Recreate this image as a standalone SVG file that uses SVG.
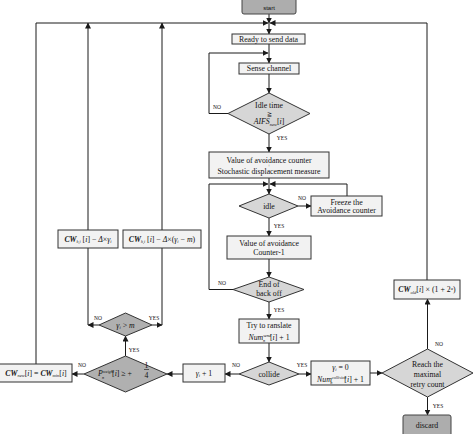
<svg xmlns="http://www.w3.org/2000/svg" width="474" height="434" viewBox="0 0 474 434">
<defs>
<marker id="ah" markerUnits="userSpaceOnUse" markerWidth="6" markerHeight="6" refX="5.5" refY="3" orient="auto">
<path d="M0,0 L6,3 L0,6 z" fill="#1a1a1a"/>
</marker>
</defs>
<style>
.box{fill:#f2f2f2;stroke:#333;stroke-width:1}
.dia{fill:#d6d6d6;stroke:#333;stroke-width:1}
.dk{fill:#b0b0b0;stroke:#333;stroke-width:1}
.term{fill:#adadad;stroke:#444;stroke-width:1}
.t{font-family:"Liberation Serif",serif;font-size:7.8px;fill:#111;text-anchor:middle}
.lb{font-family:"Liberation Serif",serif;font-size:5.5px;fill:#111;text-anchor:middle}
.i{font-style:italic}
.b{font-weight:bold;font-style:italic}
.c{fill:none;stroke:#1a1a1a;stroke-width:1}
.a{marker-end:url(#ah)}
</style>
<rect width="474" height="434" fill="#fff"/>

<g id="connectors">
<path class="c a" d="M269,14 V23"/>
<path class="c a" d="M36,23 H268"/>
<path class="c a" d="M427,23 H270"/>
<path class="c a" d="M269,23 V34"/>
<path class="c a" d="M269,44 V63"/>
<path class="c a" d="M228,113.5 H209 V53 H268"/>
<path class="c a" d="M269,74 V93"/>
<path class="c a" d="M269,134 V152"/>
<path class="c a" d="M269,178 V194"/>
<path class="c a" d="M233,289.5 H209 V184 H268"/>
<path class="c a" d="M347,196 V184 H270"/>
<path class="c a" d="M298,206 H311"/>
<path class="c a" d="M269,218 V236"/>
<path class="c a" d="M269,259 V277"/>
<path class="c a" d="M269,302 V319"/>
<path class="c a" d="M269,343 V362"/>
<path class="c a" d="M239,374 H225"/>
<path class="c a" d="M183,374 H167"/>
<path class="c a" d="M84,374 H72"/>
<path class="c" d="M36,364 V23"/>
<path class="c a" d="M125.5,356 V336"/>
<path class="c a" d="M99,325 H88"/>
<path class="c" d="M88,325 V248"/>
<path class="c a" d="M152,325 H162"/>
<path class="c" d="M162,325 V248"/>
<path class="c a" d="M88,230 V23"/>
<path class="c a" d="M162,230 V23"/>
<path class="c a" d="M299,374 H311"/>
<path class="c a" d="M370,373 H382"/>
<path class="c a" d="M427.5,349 V299"/>
<path class="c" d="M427,280 V23"/>
<path class="c a" d="M427.5,397 V415"/>
</g>

<g id="labels">
<text class="lb" x="217" y="109">NO</text>
<text class="lb" x="282" y="140">YES</text>
<text class="lb" x="302" y="200">NO</text>
<text class="lb" x="279" y="228">YES</text>
<text class="lb" x="222" y="285">NO</text>
<text class="lb" x="279" y="312">YES</text>
<text class="lb" x="236" y="367">NO</text>
<text class="lb" x="302" y="367">YES</text>
<text class="lb" x="82" y="367">NO</text>
<text class="lb" x="134" y="352">YES</text>
<text class="lb" x="98" y="320">NO</text>
<text class="lb" x="154" y="320">YES</text>
<text class="lb" x="439" y="346">NO</text>
<text class="lb" x="438" y="408">YES</text>
</g>

<g id="start">
<rect class="term" x="242" y="-3" width="54" height="17" rx="2"/>
<text class="t" x="269" y="10" style="font-family:'Liberation Sans',sans-serif;font-size:6px">start</text>
</g>
<g id="ready">
<rect class="box" x="232" y="34" width="73" height="10"/>
<text class="t" x="268.5" y="41.8">Ready to send data</text>
</g>
<g id="sense">
<rect class="box" x="239" y="63" width="60" height="11"/>
<text class="t" x="269" y="71.3">Sense channel</text>
</g>
<g id="idletime">
<polygon class="dia" points="269,93 310,113.5 269,134 228,113.5"/>
<text class="t" x="269" y="107.5">Idle time</text>
<text class="t" x="269" y="115.5" style="font-size:6px">≧</text>
<text class="t" x="269" y="124"><tspan class="i">AIFS</tspan><tspan class="i" font-size="4.5" dy="1.5">new</tspan><tspan dy="-1.5">[</tspan><tspan class="i">i</tspan>]</text>
</g>
<g id="valuecounter">
<rect class="box" x="209" y="152" width="120" height="26"/>
<text class="t" x="269" y="162.5">Value of avoidance counter</text>
<text class="t" x="269" y="167" style="font-size:4.5px">+</text>
<text class="t" x="269" y="174">Stochastic displacement measure</text>
</g>
<g id="idle">
<polygon class="dia" points="269,194 298,206 269,218 239,206"/>
<text class="t" x="269" y="208.8">idle</text>
</g>
<g id="freeze">
<rect class="box" x="311" y="196" width="71" height="20"/>
<text class="t" x="346.5" y="204.5">Freeze the</text>
<text class="t" x="346.5" y="212.5">Avoidance counter</text>
</g>
<g id="counterminus">
<rect class="box" x="227" y="236" width="84" height="23"/>
<text class="t" x="269" y="245.5">Value of avoidance</text>
<text class="t" x="269" y="255">Counter-1</text>
</g>
<g id="endbackoff">
<polygon class="dia" points="269,277 304,289.5 269,302 233,289.5"/>
<text class="t" x="269" y="287">End of</text>
<text class="t" x="269" y="295.5">back off</text>
</g>
<g id="try">
<rect class="box" x="239" y="319" width="60" height="24"/>
<text class="t" x="269" y="328">Try to ranslate</text>
<text class="t" x="269" y="339.5"><tspan class="i">Num</tspan><tspan class="i" font-size="4.2" dy="-3">send</tspan><tspan class="i" font-size="4.2" dx="-8" dy="5.5">n</tspan><tspan dx="5" dy="-2.5">[</tspan><tspan class="i">i</tspan>] + 1</text>
</g>
<g id="collide">
<polygon class="dia" points="269,362 299,374 269,385 239,374"/>
<text class="t" x="269" y="376.8">collide</text>
</g>
<g id="gammaplus">
<rect class="box" x="183" y="364" width="42" height="18"/>
<text class="t" x="204" y="375.8"><tspan class="i">γ</tspan><tspan class="i" font-size="4.5" dy="1.5">i</tspan><tspan dy="-1.5"> + 1</tspan></text>
</g>
<g id="pweight">
<polygon class="dk" points="125.5,356 167,374 125.5,392 84,374"/>
<text class="t" x="115" y="376"><tspan class="i">P</tspan><tspan class="i" font-size="4.2" dy="-3">weight</tspan><tspan class="i" font-size="4.2" dx="-12" dy="5.5">n</tspan><tspan dx="8" dy="-2.5">[</tspan><tspan class="i">i</tspan>] ≥ +</text>
<text class="t" x="146.5" y="367.5">1</text>
<line x1="144" y1="369.5" x2="149" y2="369.5" stroke="#111" stroke-width="0.6"/>
<text class="t" x="146.5" y="377.5">4</text>
</g>
<g id="cwnew">
<rect class="box" x="-1" y="364" width="73" height="18"/>
<text class="t" x="36" y="375.8"><tspan class="b">CW</tspan><tspan class="i" font-size="4.5" dy="1.5">new</tspan><tspan dy="-1.5">[</tspan><tspan class="i">i</tspan>] = <tspan class="b">CW</tspan><tspan class="i" font-size="4.5" dy="1.5">min</tspan><tspan dy="-1.5">[</tspan><tspan class="i">i</tspan>]</text>
</g>
<g id="gammagtm">
<polygon class="dk" points="125.5,313 152,325 125.5,336 99,325"/>
<text class="t" x="125.5" y="327.5"><tspan class="i">γ</tspan><tspan class="i" font-size="4.5" dy="1.5">i</tspan><tspan dy="-1.5"> &gt; </tspan><tspan class="i">m</tspan></text>
</g>
<g id="cw1">
<rect class="box" x="58" y="230" width="60" height="18"/>
<text class="t" x="88" y="241.8"><tspan class="b">CW</tspan><tspan class="i" font-size="4" dy="1.5">h,i</tspan><tspan dy="-1.5"> [</tspan><tspan class="i">i</tspan>] − <tspan class="i">Δ</tspan>×<tspan class="i">γ</tspan><tspan class="i" font-size="4.5" dy="1.5">i</tspan></text>
</g>
<g id="cw2">
<rect class="box" x="123" y="230" width="78" height="18"/>
<text class="t" x="162" y="241.8"><tspan class="b">CW</tspan><tspan class="i" font-size="4" dy="1.5">h,i</tspan><tspan dy="-1.5"> [</tspan><tspan class="i">i</tspan>] − <tspan class="i">Δ</tspan>×(<tspan class="i">γ</tspan><tspan class="i" font-size="4.5" dy="1.5">i</tspan><tspan dy="-1.5"> − </tspan><tspan class="i">m</tspan>)</text>
</g>
<g id="gammazero">
<rect class="box" x="311" y="361" width="59" height="24"/>
<text class="t" x="340.5" y="369.5"><tspan class="i">γ</tspan><tspan class="i" font-size="4.5" dy="1.5">i</tspan><tspan dy="-1.5"> = 0</tspan></text>
<text class="t" x="340.5" y="381.5"><tspan class="i">Num</tspan><tspan class="i" font-size="4.2" dy="-3">collision</tspan><tspan class="i" font-size="4.2" dx="-16" dy="5.5">n</tspan><tspan dx="12" dy="-2.5">[</tspan><tspan class="i">i</tspan>] + 1</text>
</g>
<g id="reach">
<polygon class="dia" points="427.5,349 473,373 427.5,397 382,373"/>
<text class="t" x="427.5" y="367">Reach the</text>
<text class="t" x="427.5" y="377">maximal</text>
<text class="t" x="427.5" y="386.5">retry count</text>
</g>
<g id="cwold">
<rect class="box" x="394" y="280" width="66" height="19"/>
<text class="t" x="427" y="292.3"><tspan class="b">CW</tspan><tspan class="i" font-size="4.5" dy="1.5">old</tspan><tspan dy="-1.5">[</tspan><tspan class="i">i</tspan>] × (1 + 2<tspan class="i" font-size="4.5" dy="-2.5">α</tspan><tspan dy="2.5">)</tspan></text>
</g>
<g id="discard">
<rect class="term" x="403" y="415" width="48" height="22" rx="2"/>
<text class="t" x="427" y="427.5">discard</text>
</g>
</svg>
